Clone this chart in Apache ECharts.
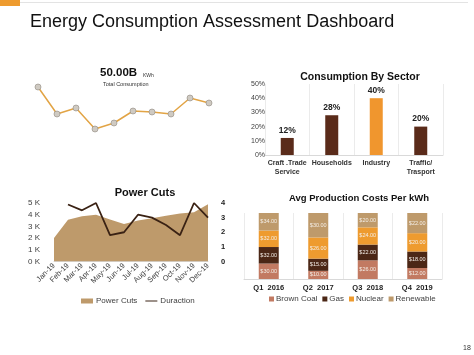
<!DOCTYPE html>
<html>
<head>
<meta charset="utf-8">
<script src="https://cdn.jsdelivr.net/npm/echarts@6/dist/echarts.min.js"></script>
<style>
html,body{margin:0;padding:0;background:#fff;}
#c{width:474px;height:355px;}
</style>
</head>
<body>
<div id="c"></div>
<script>
// Total consumption trend (unlabeled months)
const consumptionPoints = ['1','2','3','4','5','6','7','8','9','10'];
const consumptionValues = [8.3, 5.6, 6.2, 4.1, 4.7, 5.9, 5.8, 5.6, 7.2, 6.7];

// Consumption by sector
const sectors = ['Craft .Trade\nService', 'Households', 'Industry', 'Traffic/\nTrasport'];
const sectorShares = [12, 28, 40, 20];

// Power cuts
const months = ['Jan-19','Feb-19','Mar-19','Apr-19','May-19','Jun-19','Jul-19','Aug-19','Sep-19','Oct-19','Nov-19','Dec-19'];
const powerCuts = [2000, 3570, 3860, 4000, 3600, 3200, 3500, 3700, 3900, 4100, 4200, 4900];
const duration = [null, 3.9, 3.5, 4.0, 1.8, 2.0, 3.2, 3.0, 2.5, 1.8, 4.0, 3.0];

// Avg production costs per kWh
const quarters = ['Q1  2016', 'Q2  2017', 'Q3  2018', 'Q4  2019'];
const brownCoal = [30, 10, 26, 12];
const gas = [32, 15, 22, 18];
const nuclear = [32, 26, 24, 20];
const renewable = [34, 30, 20, 22];

const costSeries = [
  {name: 'Brown Coal', data: brownCoal, color: '#C27A62'},
  {name: 'Gas', data: gas, color: '#4B2716'},
  {name: 'Nuclear', data: nuclear, color: '#EE9B2F'},
  {name: 'Renewable', data: renewable, color: '#BE9A6B'}
];
const totals = quarters.map((q, i) => costSeries.reduce((s, c) => s + c.data[i], 0));

const FONT = '"Liberation Sans", Arial, sans-serif';
const chart = echarts.init(document.getElementById('c'));

chart.setOption({
  animation: false,
  textStyle: {fontFamily: FONT},
  title: [
    {text: 'Energy Consumption Assessment Dashboard', left: 25, top: 8,
     textStyle: {fontSize: 18, fontWeight: 'normal', color: '#111', fontFamily: FONT}},
    {text: '50.00B', left: 95, top: 62, textStyle: {fontSize: 11.5, fontWeight: 'bold', color: '#111', fontFamily: FONT}},
    {text: 'KWh', left: 138, top: 68, textStyle: {fontSize: 5, fontWeight: 'normal', color: '#333', fontFamily: FONT}},
    {text: 'Total Consumption', left: 98, top: 76, textStyle: {fontSize: 5.5, fontWeight: 'normal', color: '#333', fontFamily: FONT}},
    {text: 'Consumption By Sector', left: 355, textAlign: 'center', top: 67,
     textStyle: {fontSize: 10.5, fontWeight: 'bold', color: '#111', fontFamily: FONT}},
    {text: 'Power Cuts', left: 140, textAlign: 'center', top: 182,
     textStyle: {fontSize: 11, fontWeight: 'bold', color: '#111', fontFamily: FONT}},
    {text: 'Avg Production Costs Per kWh', left: 354, textAlign: 'center', top: 188,
     textStyle: {fontSize: 9.5, fontWeight: 'bold', color: '#111', fontFamily: FONT}},
    {text: '18', left: 458, top: 340, textStyle: {fontSize: 7, fontWeight: 'normal', color: '#333', fontFamily: FONT}}
  ],
  graphic: [
    {type: 'rect', shape: {x: 20, y: 2, width: 448, height: 1}, style: {fill: '#E3E3E3'}},
    {type: 'rect', shape: {x: 0, y: 0, width: 20, height: 6}, style: {fill: '#EE9B2F'}}
  ],
  legend: [
    {left: 76, top: 292, itemWidth: 12, itemHeight: 5, itemGap: 8,
     textStyle: {fontSize: 8, color: '#404040', fontFamily: FONT, padding: [0,0,0,-2]},
     data: [{name: 'Power Cuts', icon: 'rect'}, {name: 'Duraction', icon: 'path://M0,0 L12,0 L12,1 L0,1 Z'}]},
    {left: 264, top: 290, itemWidth: 5, itemHeight: 5, itemGap: 5, icon: 'rect',
     textStyle: {fontSize: 8, color: '#404040', fontFamily: FONT, padding: [0,0,0,-3]},
     data: ['Brown Coal', 'Gas', 'Nuclear', 'Renewable']}
  ],
  grid: [
    {left: 38, top: 80, width: 171, height: 60},
    {left: 265, top: 84, width: 178, height: 71},
    {left: 54, top: 203, width: 154, height: 58.5},
    {left: 244, top: 213, width: 198, height: 66}
  ],
  xAxis: [
    {gridIndex: 0, type: 'category', data: consumptionPoints, boundaryGap: false, show: false},
    {gridIndex: 1, type: 'category', data: sectors,
     axisLine: {lineStyle: {color: '#D9D9D9'}}, axisTick: {show: false},
     splitLine: {show: true, lineStyle: {color: '#EBEBEB'}},
     axisLabel: {fontSize: 7, fontWeight: 'bold', color: '#333', margin: 4, lineHeight: 8.5, fontFamily: FONT, interval: 0}},
    {gridIndex: 2, type: 'category', data: months, boundaryGap: false,
     axisLine: {lineStyle: {color: '#D9D9D9'}}, axisTick: {show: false},
     axisLabel: {fontSize: 7.5, color: '#404040', rotate: 45, interval: 0, margin: 3, fontFamily: FONT}},
    {gridIndex: 3, type: 'category', data: quarters,
     axisLine: {lineStyle: {color: '#D9D9D9'}}, axisTick: {show: false},
     splitLine: {show: true, lineStyle: {color: '#EBEBEB'}},
     axisLabel: {fontSize: 7.5, fontWeight: 'bold', color: '#222', margin: 5, fontFamily: FONT}}
  ],
  yAxis: [
    {gridIndex: 0, type: 'value', min: 3, max: 9, show: false},
    {gridIndex: 1, type: 'value', min: 0, max: 50, interval: 10,
     axisLabel: {formatter: '{value}%', fontSize: 7, color: '#404040', margin: 0, fontFamily: FONT},
     splitLine: {show: false}, axisLine: {show: false}, axisTick: {show: false}},
    {gridIndex: 2, type: 'value', min: 0, max: 5000, interval: 1000,
     axisLabel: {formatter: v => (v / 1000) + ' K', fontSize: 8, color: '#404040', margin: 14, fontFamily: FONT},
     splitLine: {show: false}, axisLine: {show: false}, axisTick: {show: false}},
    {gridIndex: 2, type: 'value', min: 0, max: 4, interval: 1, position: 'right',
     axisLabel: {fontSize: 7.5, fontWeight: 'bold', color: '#222', margin: 13, fontFamily: FONT},
     splitLine: {show: false}, axisLine: {show: false}, axisTick: {show: false}},
    {gridIndex: 3, type: 'value', min: 0, max: 100, show: false}
  ],
  series: [
    {type: 'line', xAxisIndex: 0, yAxisIndex: 0, data: consumptionValues,
     lineStyle: {color: '#E2A445', width: 1.5},
     symbol: 'circle', symbolSize: 6,
     itemStyle: {color: '#CFCAC2', borderColor: '#8E8880', borderWidth: 0.6}},
    {type: 'bar', xAxisIndex: 1, yAxisIndex: 1, barWidth: 13,
     data: sectorShares.map((v, i) => ({value: v, itemStyle: {color: i === 2 ? '#F0962E' : '#5A2B1A'}})),
     label: {show: true, position: 'top', formatter: '{c}%', fontSize: 8.5, fontWeight: 'bold', color: '#222', distance: 3, fontFamily: FONT}},
    {type: 'line', name: 'Power Cuts', xAxisIndex: 2, yAxisIndex: 2, data: powerCuts,
     symbol: 'none', lineStyle: {width: 0}, areaStyle: {color: '#BE9A6B', opacity: 1},
     itemStyle: {color: '#BE9A6B'}},
    {type: 'line', name: 'Duraction', xAxisIndex: 2, yAxisIndex: 3, data: duration,
     symbol: 'none', lineStyle: {color: '#3A2214', width: 1.8}, itemStyle: {color: '#3A2214'}},
    ...costSeries.map(s => ({
      type: 'bar', name: s.name, xAxisIndex: 3, yAxisIndex: 4, stack: 'cost', barWidth: 20,
      itemStyle: {color: s.color},
      data: s.data.map((v, i) => ({value: v / totals[i] * 100, raw: v})),
      label: {show: true, position: 'inside', fontSize: 5.5, color: '#F3EDE6', fontFamily: FONT,
              formatter: p => '$' + s.data[p.dataIndex].toFixed(2)}
    }))
  ]
});
</script>
</body>
</html>
